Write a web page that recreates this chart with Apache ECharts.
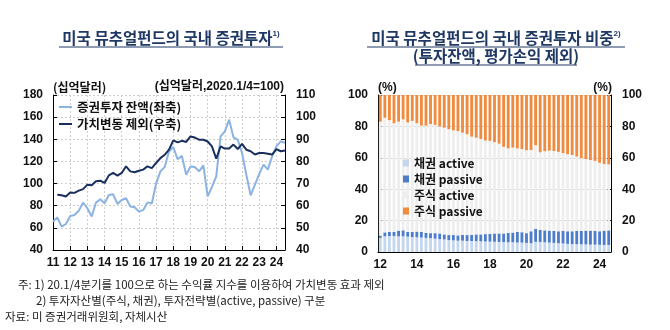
<!DOCTYPE html>
<html><head><meta charset="utf-8">
<script src="https://cdn.jsdelivr.net/npm/echarts@6/dist/echarts.min.js"></script>
<style>html,body{margin:0;padding:0;background:#fff}#c{width:670px;height:330px}</style>
</head><body><div id="c"></div>
<script>
// ---- 미국 뮤추얼펀드의 국내 증권투자 (분기, 11.1/4 ~ 24.3/4) ----
const leftYears = ['11','12','13','14','15','16','17','18','19','20','21','22','23','24'];
// 증권투자 잔액 (십억달러, 좌축)
const balance = [65.6,69.5,61.1,63.5,70.7,71.6,75.5,82.8,77.7,70.2,82.8,85.8,82.2,89.7,90.3,81.6,
  85.2,86.7,79.2,78.6,74.7,76.2,83.0,82.0,100.0,111.0,115.0,129.0,133.0,122.0,125.0,108.0,
  115.5,115.0,111.0,116.5,88.5,97.0,106.5,142.7,147.2,157.7,141.8,139.6,127.6,108.0,89.4,99.0,
  108.6,117.1,112.6,124.6,133.6,138.2,136.7];
// 가치변동 제외 지수 (2020.1/4=100, 우축)
const valueAdj = [null,65.0,64.7,64.2,66.0,65.8,66.8,67.5,69.5,69.2,71.0,71.3,70.3,73.7,74.8,73.6,
  74.8,77.8,75.5,75.1,75.8,76.3,77.8,77.0,79.3,81.5,83.0,85.3,89.5,88.6,89.3,88.8,
  91.3,90.8,89.8,89.8,89.0,86.8,81.2,86.8,85.8,85.8,87.6,85.6,87.9,85.3,84.6,83.1,
  83.8,83.8,83.5,83.1,85.6,84.6,84.9];

// ---- 투자 비중 (%, 분기, 12.1/4 ~ 24.3/4) ----
const rightYears = ['12','13','14','15','16','17','18','19','20','21','22','23','24'];
const bondActive = [9.0,10.0,10.2,10.2,10.0,10.0,9.8,9.5,9.4,9.2,9.0,8.8,8.5,8.2,8.0,7.6,
  7.4,7.2,7.2,7.0,7.0,6.9,6.8,6.7,6.6,6.5,6.4,6.3,6.2,6.2,6.0,6.0,
  5.8,5.6,6.5,6.4,6.2,6.0,5.8,5.6,5.4,5.2,5.0,5.0,4.9,4.8,4.7,4.7,4.6,4.5,4.5];
const bondPassive = [1.5,2.5,2.6,2.6,3.6,3.8,3.0,3.3,3.6,3.6,3.2,3.2,3.5,3.6,3.2,3.2,
  3.4,3.4,3.8,3.8,4.0,4.3,4.4,4.7,5.0,5.3,5.4,5.5,6.0,6.2,6.8,6.6,
  6.2,7.6,8.3,7.6,7.6,7.6,7.6,7.6,8.0,8.0,8.2,8.4,8.5,8.8,8.9,8.7,8.6,9.1,9.3];
const stockActive = [72.5,73.0,71.2,69.2,69.4,70.7,69.7,70.7,69.0,67.7,68.3,69.5,69.0,68.2,68.0,67.4,
  66.7,66.4,65.0,64.2,62.5,61.6,60.8,59.6,59.2,58.2,57.2,55.2,53.8,54.1,53.2,52.9,
  52.8,51.8,53.2,49.5,50.4,51.0,50.9,50.6,49.6,49.1,48.6,47.4,46.4,45.6,45.0,44.6,43.6,42.4,42.0];
const stockPassive = [17.0,14.5,16.0,18.0,17.0,15.5,17.5,16.5,18.0,19.5,19.5,18.5,19.0,20.0,20.8,21.8,
  22.5,23.0,24.0,25.0,26.5,27.2,28.0,29.0,29.2,30.0,31.0,33.0,34.0,33.5,34.0,34.5,
  35.2,35.0,32.0,36.5,35.8,35.4,35.7,36.2,37.0,37.7,38.2,39.2,40.2,40.8,41.4,42.0,43.2,44.0,44.2];

const leftTicks = [40,60,80,100,120,140,160,180];
const rightTicks = [40,50,60,70,80,90,100,110];

// quarterly category labels, e.g. "11.1Q"
function quarters(years, count) {
  const out = [];
  for (const y of years) for (let q = 1; q <= 4; q++) if (out.length < count) out.push(y + '.' + q + 'Q');
  return out;
}
const leftCats = quarters(leftYears, balance.length);
const rightCats = quarters(rightYears, bondActive.length);

const LAT = '"Liberation Sans", Arial, "Noto Sans CJK KR", sans-serif';
const KR = '"Noto Sans CJK KR", "Liberation Sans", sans-serif';
const NAVY = '#1F3864';
const INK = '#111';

const axisLab = { color: INK, fontFamily: LAT, fontWeight: 'bold', fontSize: 12 };
const yearLabel = v => v.split('.')[0];

const chart = echarts.init(document.getElementById('c'), null, { renderer: 'canvas' });
chart.setOption({
  animation: false,
  backgroundColor: '#fff',
  grid: [
    { left: 53, top: 95, width: 232, height: 155 },
    { left: 378, top: 95, width: 233, height: 157 }
  ],
  legend: [
    {
      data: ['증권투자 잔액(좌축)', '가치변동 제외(우축)'],
      orient: 'vertical', left: 59, top: 100, padding: 0,
      icon: 'rect', itemWidth: 13, itemHeight: 2, itemGap: 3,
      textStyle: { color: INK, fontFamily: KR, fontWeight: 'bold', fontSize: 12.5, lineHeight: 14 }
    },
    {
      data: ['채권 active', '채권 passive', '주식 active', '주식 passive'],
      orient: 'vertical', left: 403, top: 156, padding: 0,
      icon: 'rect', itemWidth: 6, itemHeight: 7, itemGap: 2,
      textStyle: { color: INK, fontFamily: KR, fontWeight: 'bold', fontSize: 12, lineHeight: 14 }
    }
  ],
  xAxis: [
    {
      type: 'category', gridIndex: 0, data: leftCats, boundaryGap: false,
      axisLine: { lineStyle: { color: '#000', width: 1 } },
      axisTick: { inside: true, length: 4, interval: i => i % 4 === 0, lineStyle: { color: '#000' } },
      axisLabel: Object.assign({ interval: i => i % 4 === 0, margin: 7, formatter: yearLabel }, axisLab),
      splitLine: { show: true, interval: i => i % 4 === 0, lineStyle: { color: '#cfcfcf', type: [2, 2] } }
    },
    {
      type: 'category', gridIndex: 1, data: rightCats,
      axisLine: { lineStyle: { color: '#000', width: 1 } },
      axisTick: { inside: true, length: 4, alignWithLabel: true, interval: i => i % 8 === 0, lineStyle: { color: '#000' } },
      axisLabel: Object.assign({ interval: i => i % 8 === 0, margin: 7, formatter: yearLabel }, axisLab),
      splitLine: { show: false }
    }
  ],
  yAxis: [
    {
      type: 'value', gridIndex: 0, position: 'left', min: leftTicks[0], max: leftTicks[leftTicks.length - 1], interval: 20,
      axisLine: { show: true, lineStyle: { color: '#000' } },
      axisTick: { show: true, inside: true, length: 4, lineStyle: { color: '#000' } },
      axisLabel: Object.assign({ margin: 10 }, axisLab),
      splitLine: { show: true, lineStyle: { color: '#cfcfcf', type: [2, 2] } }
    },
    {
      type: 'value', gridIndex: 0, position: 'right', min: rightTicks[0], max: rightTicks[rightTicks.length - 1], interval: 10,
      axisLine: { show: true, lineStyle: { color: '#000' } },
      axisTick: { show: true, inside: true, length: 4, lineStyle: { color: '#000' } },
      axisLabel: Object.assign({ margin: 11 }, axisLab),
      splitLine: { show: false }
    },
    {
      type: 'value', gridIndex: 1, position: 'left', min: 0, max: 100, interval: 20,
      axisLine: { show: true, lineStyle: { color: '#000' } },
      axisTick: { show: true, inside: true, length: 4, lineStyle: { color: '#000' } },
      axisLabel: Object.assign({ margin: 10 }, axisLab),
      splitLine: { show: true, lineStyle: { color: '#d9d9d9', width: 1 } }
    },
    {
      type: 'value', gridIndex: 1, position: 'right', min: 0, max: 100, interval: 20,
      axisLine: { show: true, lineStyle: { color: '#000' } },
      axisTick: { show: true, inside: true, length: 4, lineStyle: { color: '#000' } },
      axisLabel: Object.assign({ margin: 11 }, axisLab),
      splitLine: { show: false }
    }
  ],
  series: [
    {
      name: '증권투자 잔액(좌축)', type: 'line', xAxisIndex: 0, yAxisIndex: 0, data: balance,
      symbol: 'none', color: '#8DB3E2', lineStyle: { color: '#8DB3E2', width: 2 }, z: 3
    },
    {
      name: '가치변동 제외(우축)', type: 'line', xAxisIndex: 0, yAxisIndex: 1, data: valueAdj,
      symbol: 'none', color: '#1A2F5E', lineStyle: { color: '#1A2F5E', width: 2 }, z: 4
    },
    { name: '채권 active', type: 'bar', stack: 'w', xAxisIndex: 1, yAxisIndex: 2, data: bondActive,
      color: '#C5D6EF', barCategoryGap: '38%' },
    { name: '채권 passive', type: 'bar', stack: 'w', xAxisIndex: 1, yAxisIndex: 2, data: bondPassive,
      color: '#4D7CC9' },
    { name: '주식 active', type: 'bar', stack: 'w', xAxisIndex: 1, yAxisIndex: 2, data: stockActive,
      color: '#EEEEEE' },
    { name: '주식 passive', type: 'bar', stack: 'w', xAxisIndex: 1, yAxisIndex: 2, data: stockPassive,
      color: '#F08A3E' }
  ],
  graphic: [
    // left title
    { type: 'text', x: 171, y: 38, style: {
        text: '{t|미국 뮤추얼펀드의 국내 증권투자}{s|1)}', align: 'center', verticalAlign: 'middle',
        rich: { t: { fontFamily: KR, fontWeight: 'bold', fontSize: 15.5, fill: NAVY },
                s: { fontFamily: LAT, fontWeight: 'bold', fontSize: 8, fill: NAVY, verticalAlign: 'top' } } } },
    { type: 'line', shape: { x1: 59, y1: 47, x2: 283, y2: 47 }, style: { stroke: NAVY, lineWidth: 1 } },
    // right title
    { type: 'text', x: 496, y: 38, style: {
        text: '{t|미국 뮤추얼펀드의 국내 증권투자 비중}{s|2)}', align: 'center', verticalAlign: 'middle',
        rich: { t: { fontFamily: KR, fontWeight: 'bold', fontSize: 15.5, fill: NAVY },
                s: { fontFamily: LAT, fontWeight: 'bold', fontSize: 8, fill: NAVY, verticalAlign: 'top' } } } },
    { type: 'line', shape: { x1: 367, y1: 47, x2: 625, y2: 47 }, style: { stroke: NAVY, lineWidth: 1 } },
    { type: 'text', x: 496, y: 56, style: { text: '(투자잔액, 평가손익 제외)', align: 'center', verticalAlign: 'middle',
        fontFamily: KR, fontWeight: 'bold', fontSize: 15.5, fill: NAVY } },
    { type: 'line', shape: { x1: 415, y1: 65, x2: 577, y2: 65 }, style: { stroke: NAVY, lineWidth: 1 } },
    // unit labels
    { type: 'text', x: 53, y: 87, style: { text: '(십억달러)', verticalAlign: 'middle',
        fontFamily: KR, fontWeight: 'bold', fontSize: 12, fill: INK } },
    { type: 'text', x: 284, y: 87, style: { text: '(십억달러,2020.1/4=100)', align: 'right', verticalAlign: 'middle',
        fontFamily: LAT, fontWeight: 'bold', fontSize: 12, fill: INK } },
    { type: 'text', x: 378, y: 88, style: { text: '(%)', verticalAlign: 'middle',
        fontFamily: LAT, fontWeight: 'bold', fontSize: 12, fill: INK } },
    { type: 'text', x: 612, y: 88, style: { text: '(%)', align: 'right', verticalAlign: 'middle',
        fontFamily: LAT, fontWeight: 'bold', fontSize: 12, fill: INK } },
    // notes
    { type: 'text', x: 18, y: 285, style: { text: '주: 1) 20.1/4분기를 100으로 하는 수익률 지수를 이용하여 가치변동 효과 제외',
        verticalAlign: 'middle', fontFamily: KR, fontSize: 11.5, fill: '#222' } },
    { type: 'text', x: 36, y: 301, style: { text: '2) 투자자산별(주식, 채권), 투자전략별(active, passive) 구분',
        verticalAlign: 'middle', fontFamily: KR, fontSize: 11.5, fill: '#222' } },
    { type: 'text', x: 5, y: 317, style: { text: '자료: 미 증권거래위원회, 자체시산',
        verticalAlign: 'middle', fontFamily: KR, fontSize: 11.5, fill: '#222' } }
  ]
});
</script>
</body></html>
